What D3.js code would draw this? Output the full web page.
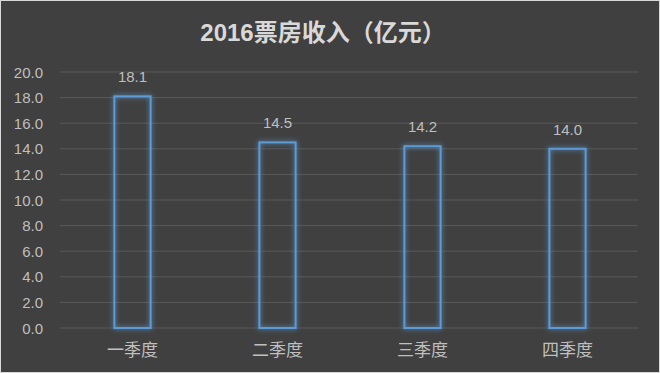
<!DOCTYPE html>
<html><head><meta charset="utf-8">
<script src="https://cdn.jsdelivr.net/npm/d3@7"></script>
<style>body{margin:0;background:#fff}svg{display:block}</style>
</head><body>
<script>
const categories = ["一季度","二季度","三季度","四季度"];
const values = [18.1, 14.5, 14.2, 14.0];
const yTicks = [0,2,4,6,8,10,12,14,16,18,20];
const title = "2016票房收入（亿元）";

const W = 660, H = 373;
const svg = d3.select("body").append("svg").attr("width", W).attr("height", H);
const defs = svg.append("defs");
const f = defs.append("filter").attr("id","glow").attr("x","-50%").attr("y","-50%").attr("width","200%").attr("height","200%");
f.append("feGaussianBlur").attr("in","SourceGraphic").attr("stdDeviation",2.5).attr("result","b");
const m = f.append("feMerge");
m.append("feMergeNode").attr("in","b");
m.append("feMergeNode").attr("in","SourceGraphic");

svg.append("rect").attr("x",0.5).attr("y",0.5).attr("width",W-1).attr("height",H-1)
  .attr("fill","#404040").attr("stroke","#d9d9d9");

const font = "'Liberation Sans', Arial, 'Noto Sans CJK SC', sans-serif";
svg.append("text").attr("x",323).attr("y",41).attr("text-anchor","middle")
  .attr("font-family",font).attr("font-size",24).attr("font-weight","bold")
  .attr("fill","#d9d9d9").text(title);

const x = d3.scaleBand().domain(categories).range([60,640]).paddingInner(0.75).paddingOuter(0.375);
const y = d3.scaleLinear().domain([0,20]).range([328,72]);

const g = svg.append("g");
g.selectAll("line.grid").data(yTicks).join("line")
  .attr("x1",60).attr("x2",638).attr("y1",d=>y(d)).attr("y2",d=>y(d))
  .attr("stroke","#595959").attr("stroke-width",1);

g.selectAll("text.yt").data(yTicks).join("text")
  .attr("x",43).attr("y",d=>y(d)+5.5).attr("text-anchor","end")
  .attr("font-family",font).attr("font-size",15).attr("fill","#bfbfbf")
  .text(d=>d.toFixed(1));

g.selectAll("rect.bar").data(values).join("rect")
  .attr("x",(d,i)=>x(categories[i])).attr("width",x.bandwidth())
  .attr("y",d=>y(d)).attr("height",d=>y(0)-y(d))
  .attr("fill","none").attr("stroke","#5b9bd5").attr("stroke-width",2)
  .attr("filter","url(#glow)");

g.selectAll("text.vl").data(values).join("text")
  .attr("x",(d,i)=>x(categories[i])+x.bandwidth()/2).attr("y",d=>y(d)-14)
  .attr("text-anchor","middle").attr("font-family",font).attr("font-size",15)
  .attr("fill","#bfbfbf").text(d=>d.toFixed(1));

g.selectAll("text.cat").data(categories).join("text")
  .attr("x",d=>x(d)+x.bandwidth()/2).attr("y",356).attr("text-anchor","middle")
  .attr("font-family",font).attr("font-size",17).attr("fill","#bfbfbf").text(d=>d);
</script>
</body></html>
